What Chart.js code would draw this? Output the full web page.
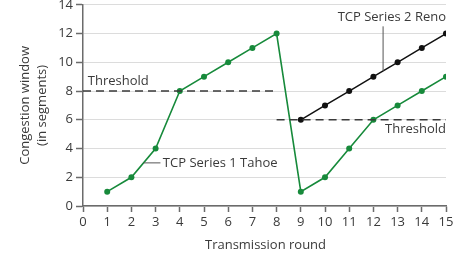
<!DOCTYPE html>
<html>
<head>
<meta charset="utf-8">
<script src="https://cdn.jsdelivr.net/npm/chart.js@4/dist/chart.umd.min.js"></script>
<style>
  html, body { margin: 0; padding: 0; background: #fff; overflow: hidden; }
  #wrap { position: absolute; left: 0; top: -6px; width: 474px; height: 280px; }
</style>
</head>
<body>
<div id="wrap"><canvas id="chart"></canvas></div>
<script>
const rounds = [1, 2, 3, 4, 5, 6, 7, 8, 9, 10, 11, 12, 13, 14, 15];
const tahoe = [1, 2, 4, 8, 9, 10, 11, 12, 1, 2, 4, 6, 7, 8, 9];
const renoRounds = [9, 10, 11, 12, 13, 14, 15];
const reno = [6, 7, 8, 9, 10, 11, 12];
const threshold1 = [[0, 8], [8, 8]];
const threshold2 = [[8, 6], [15, 6]];
const yTicks = [0, 2, 4, 6, 8, 10, 12, 14];

const green = "#178a3b";
const axisGray = "#6b6b6b";
const textColor = "#3a3a3a";
const font = "Open Sans";

// labels and leader lines, drawn in data coordinates
const annotations = [
    { text: "Threshold", x: 0.2, y: 8.65, align: "left" },
    { text: "Threshold", x: 15, y: 5.35, align: "right" },
    { text: "TCP Series 1 Tahoe", x: 3.3, y: 3.0, align: "left" },
    { text: "TCP Series 2 Reno", x: 15, y: 13.1, align: "right" }
];
const leaders = [
    [[2.5, 3.0], [3.2, 3.0]],
    [[12.4, 12.5], [12.4, 9.4]]
];

const annotationPlugin = {
    id: "annotationPlugin",
    afterDatasetsDraw(chart) {
        const { ctx, scales: { x, y }, chartArea } = chart;
        ctx.save();
        ctx.strokeStyle = "#555";
        ctx.lineWidth = 1;
        leaders.forEach(seg => {
            ctx.beginPath();
            ctx.moveTo(x.getPixelForValue(seg[0][0]), y.getPixelForValue(seg[0][1]));
            ctx.lineTo(x.getPixelForValue(seg[1][0]), y.getPixelForValue(seg[1][1]));
            ctx.stroke();
        });
        ctx.fillStyle = textColor;
        ctx.font = "13px '" + font + "'";
        ctx.textBaseline = "middle";
        annotations.forEach(a => {
            ctx.textAlign = a.align;
            ctx.fillText(a.text, x.getPixelForValue(a.x), y.getPixelForValue(a.y));
        });
        // axis titles
        ctx.textAlign = "center";
        ctx.fillText("Transmission round", (chartArea.left + chartArea.right) / 2 + 1, 251);
        ctx.translate(0, (chartArea.top + chartArea.bottom) / 2);
        ctx.rotate(-Math.PI / 2);
        ctx.fillText("Congestion window", 0, 25);
        ctx.fillText("(in segments)", 0, 42);
        ctx.restore();
    }
};

new Chart(document.getElementById("chart"), {
    type: "line",
    data: {
        datasets: [
            {
                data: threshold1.map(p => ({ x: p[0], y: p[1] })),
                borderColor: "#3a3a3a",
                borderWidth: 1.5,
                borderDash: [8, 5],
                pointRadius: 0
            },
            {
                data: threshold2.map(p => ({ x: p[0], y: p[1] })),
                borderColor: "#3a3a3a",
                borderWidth: 1.5,
                borderDash: [8, 5],
                pointRadius: 0
            },
            {
                data: renoRounds.map((r, i) => ({ x: r, y: reno[i] })),
                borderColor: "#111",
                backgroundColor: "#111",
                borderWidth: 1.5,
                pointRadius: 3,
                pointBorderWidth: 0
            },
            {
                data: rounds.map((r, i) => ({ x: r, y: tahoe[i] })),
                borderColor: green,
                backgroundColor: green,
                borderWidth: 1.6,
                pointRadius: 3,
                pointBorderWidth: 0
            }
        ]
    },
    options: {
        responsive: true,
        maintainAspectRatio: false,
        animation: false,
        layout: { padding: { top: 5, right: 28, left: 0, bottom: 0 } },
        plugins: {
            legend: { display: false },
            tooltip: { enabled: false }
        },
        scales: {
            x: {
                type: "linear",
                min: 0,
                max: 15,
                afterFit: s => { s.height = 68; },
                afterBuildTicks: s => { s.ticks = [0].concat(rounds).map(v => ({ value: v })); },
                ticks: { color: textColor, font: { family: font, size: 13 }, padding: 2 },
                grid: { drawOnChartArea: false, tickLength: 6, tickColor: axisGray, tickWidth: 1.5 },
                border: { color: axisGray, width: 1.5 }
            },
            y: {
                min: 0,
                max: 14,
                afterFit: s => { s.width = 83; },
                afterBuildTicks: s => { s.ticks = yTicks.map(v => ({ value: v })); },
                ticks: { color: textColor, font: { family: font, size: 13 }, padding: 3 },
                grid: { color: "#dcdcdc", lineWidth: 1, tickLength: 7, tickColor: axisGray, tickWidth: 1.5 },
                border: { color: axisGray, width: 1.5 }
            }
        }
    },
    plugins: [annotationPlugin]
});
</script>
</body>
</html>
